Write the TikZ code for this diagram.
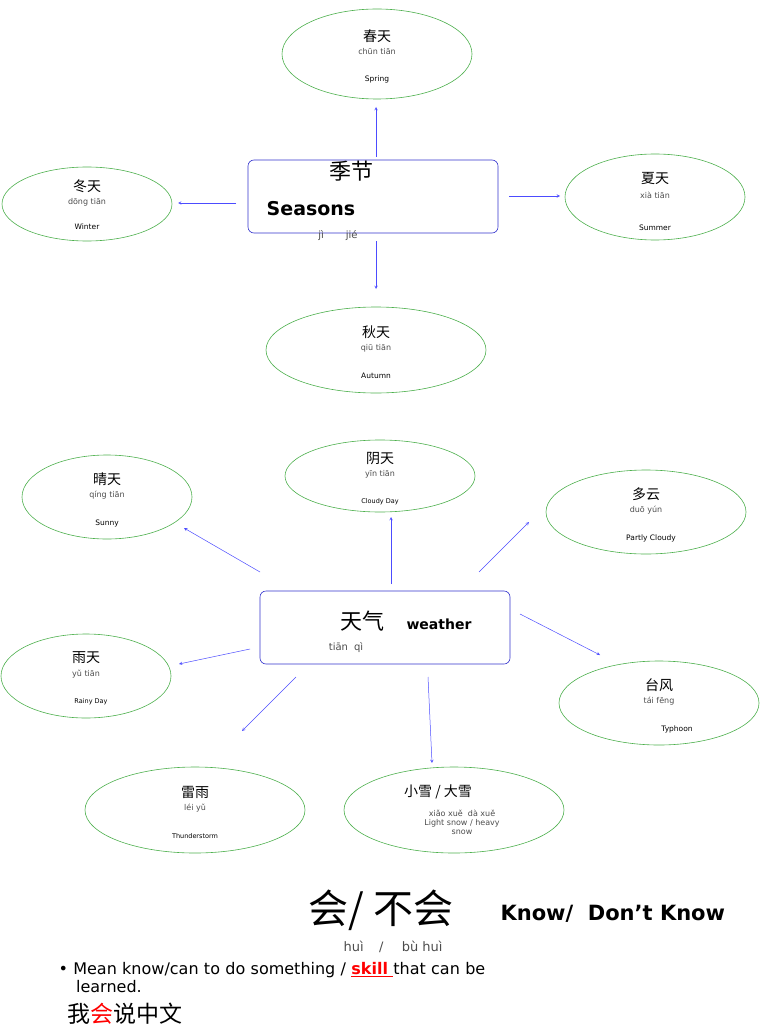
\documentclass[tikz,border=0pt]{standalone}
\usepackage{fontspec}
\setmainfont{DejaVu Sans}
\newfontfamily\cjk{Noto Sans CJK SC}
\begin{document}
\begin{tikzpicture}[x=1pt,y=-1pt,
 el/.style={draw=green!55!black!70,line width=0.6pt},
 box/.style={draw=blue!60!gray,rounded corners=6pt,line width=0.6pt},
 ar/.style={draw=blue!70!white,-stealth,line width=0.5pt},
 py/.style={font=\fontsize{8}{9}\selectfont,text=black!70},
 en/.style={font=\fontsize{7.5}{9}\selectfont},
 zh/.style={font=\cjk\fontsize{14}{16}\selectfont}]
\useasboundingbox (0,0) rectangle (768,1024);
\newcommand\myoval[7]{%
 \draw[el] (#2,#3) ellipse [x radius=#4,y radius=#5];
 \node[zh] (#1z) at (#2,#3-18) {#6};
 \node[py] (#1p) at (#2,#3-2) {#7};}
% seasons
\draw[box] (248,160) rectangle (498,233);
\node[font=\cjk\fontsize{22}{24}\selectfont] (sz) at (351,171) {季节};
\node[font=\bfseries\fontsize{19}{22}\selectfont] (se) at (311,209) {Seasons};
\node[py,font=\fontsize{10}{12}\selectfont] (sp) at (338,236) {jì\hspace{2.2em}jié};
\myoval{a}{377}{54}{95}{45}{春天}{chūn tiān}\node[en] (ae) at (377,79) {Spring};
\myoval{b}{655}{197}{90}{43}{夏天}{xià tiān}\node[en] (be) at (655,228) {Summer};
\myoval{c}{87}{204}{85}{37}{冬天}{dōng tiān}\node[en] (ce) at (87,227) {Winter};
\myoval{d}{376}{350}{110}{43}{秋天}{qiū tiān}\node[en] (de) at (376,376) {Autumn};
\coordinate (s1) at (376,157);\coordinate (s1e) at (376,107);
\coordinate (s2) at (236,203);\coordinate (s2e) at (178,203);
\coordinate (s3) at (509,196);\coordinate (s3e) at (560,196);
\coordinate (s4) at (376,241);\coordinate (s4e) at (376,289);
\draw[ar] (s1)--(s1e);\draw[ar] (s2)--(s2e);\draw[ar] (s3)--(s3e);\draw[ar] (s4)--(s4e);
% weather
\draw[box] (260,591) rectangle (510,664);
\node[font=\cjk\fontsize{22}{24}\selectfont] (wz) at (362,621) {天气};
\node[font=\bfseries\fontsize{14}{16}\selectfont] (we) at (439,624) {weather};
\node[py,font=\fontsize{10}{12}\selectfont] (wp) at (346,648) {tiān\hspace{0.6em}qì};
\myoval{e}{107}{497}{85}{42}{晴天}{qíng tiān}\node[en] (ee) at (107,523) {Sunny};
\myoval{f}{380}{476}{95}{36}{阴天}{yīn tiān}\node[en,font=\fontsize{6.5}{8}\selectfont] (fe) at (380,502) {Cloudy Day};
\myoval{g}{646}{512}{100}{42}{多云}{duō yún}\node[en] (ge) at (651,538) {Partly Cloudy};
\myoval{h}{86}{676}{85}{42}{雨天}{yǔ tiān}\node[en,font=\fontsize{6.5}{8}\selectfont] (he) at (91,702) {Rainy Day};
\myoval{i}{659}{703}{100}{42}{台风}{tái fēng}\node[en] (ie) at (677,729) {Typhoon};
\myoval{j}{195}{810}{110}{43}{雷雨}{léi yǔ}\node[en,font=\fontsize{6.5}{8}\selectfont] (je) at (195,836) {Thunderstorm};
\draw[el] (454,810) ellipse [x radius=110,y radius=43];
\node[zh] (kz) at (438,792) {小雪 / 大雪};
\node[py,align=center] (kp) at (462,822) {xiǎo xuě\ \ dà xuě\\Light snow / heavy\\snow};
\coordinate (w1) at (260,572);\coordinate (w1e) at (184,528);
\coordinate (w2) at (391,584);\coordinate (w2e) at (391,517);
\coordinate (w3) at (479,572);\coordinate (w3e) at (529,522);
\coordinate (w4) at (250,649);\coordinate (w4e) at (179,664);
\coordinate (w5) at (520,614);\coordinate (w5e) at (600,655);
\coordinate (w6) at (296,677);\coordinate (w6e) at (242,731);
\coordinate (w7) at (428,677);\coordinate (w7e) at (432,763);
\foreach \p in {1,...,7}{\draw[ar] (w\p)--(w\p e);}
% bottom
\node[font=\cjk\fontsize{40}{44}\selectfont,anchor=west] (hz) at (305,910) {会/ 不会};
\node[font=\bfseries\fontsize{21}{24}\selectfont,anchor=west] (he2) at (497,914) {Know/\ \ Don’t Know};
\node[py,font=\fontsize{13}{15}\selectfont,anchor=west] (hp) at (340,947) {huì\hspace{1.2em}/\hspace{1.4em}bù huì};
\node[font=\fontsize{16}{18}\selectfont,anchor=north west,text width=620pt] (bl) at (55,959) {\textbullet\ Mean know/can to do something / \textcolor{red}{\underline{\textbf{skill }}}that can be\\\hspace*{1.1em}learned.};
\node[font=\cjk\fontsize{23}{25}\selectfont,anchor=west] (ex) at (64,1014) {我\textcolor{red}{会}说中文};
\end{tikzpicture}
\end{document}
